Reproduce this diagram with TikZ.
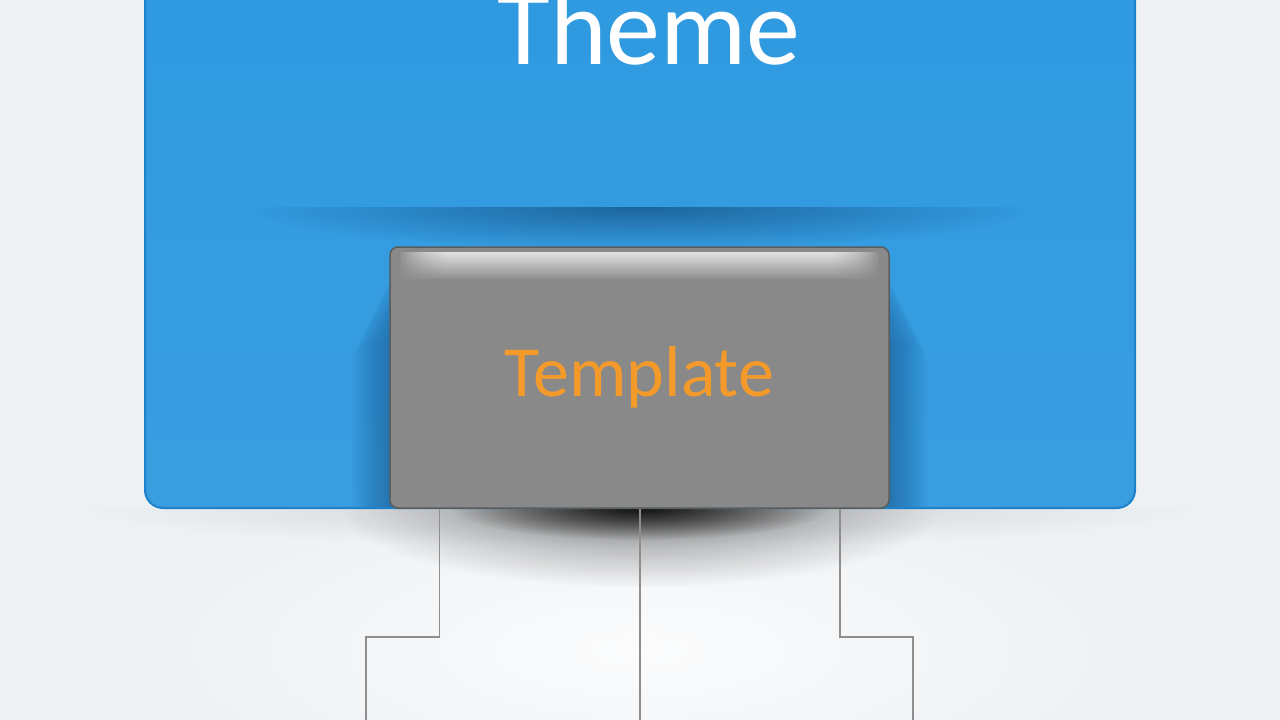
\documentclass[tikz,border=0pt]{standalone}
\usepackage{fontspec}
\setmainfont{Carlito}
\usetikzlibrary{fadings,calc}
\definecolor{bg}{HTML}{EEF1F4}
\definecolor{bgdark}{HTML}{D9DBDE}
\definecolor{blueT}{HTML}{2E9AE0}
\definecolor{blueM}{HTML}{43A5E4}
\definecolor{blueB}{HTML}{3A9DE0}
\definecolor{blueEdge}{HTML}{1E82CA}
\definecolor{shadowblue}{HTML}{0B3A66}
\definecolor{keygray}{HTML}{898989}
\definecolor{keyedge}{HTML}{5C5C5C}
\definecolor{tmplorange}{HTML}{F39A2B}
\definecolor{wire}{HTML}{8E8E8E}
\tikzfading[name=radfade, inner color=transparent!0, outer color=transparent!100]
\tikzset{
  keybox/.style={draw=keyedge, line width=1.5pt, fill=keygray, rounded corners=8pt,
    minimum width=499pt, minimum height=261pt, inner sep=0pt,
    text=tmplorange, font=\fontsize{72}{72}\selectfont},
  titletext/.style={text=white, font=\fontsize{108}{108}\selectfont, inner sep=0pt},
  wireline/.style={draw=wire, line width=1.5pt}
}
\begin{document}
\begin{tikzpicture}[x=1pt,y=-1pt]
\useasboundingbox (0,0) rectangle (1280,720);
\fill[bg] (0,0) rectangle (1280,720);
\fill[white, path fading=radfade, opacity=0.8] (640,650) ellipse [x radius=520, y radius=170];
% shadow below blue panel
\begin{scope}
  \clip (0,508) rectangle (1280,720);
  \fill[black, opacity=0.12, path fading=radfade] (640,508) ellipse [x radius=560, y radius=40];
  \fill[black, opacity=0.45, path fading=radfade] (640,508) ellipse [x radius=300, y radius=80];
  \fill[black, opacity=0.85, path fading=radfade] (640,508) ellipse [x radius=190, y radius=32];
\end{scope}
% blue panel
\shade[top color=blueT, middle color=blueM, bottom color=blueB, rounded corners=18pt]
  (145,-30) rectangle (1135,508);
\begin{scope}
  \clip[rounded corners=18pt] (145,-30) rectangle (1135,508);
  % slot shadow
  \clip (145,207) rectangle (1135,508);
  \fill[shadowblue, opacity=0.55, path fading=radfade] (640,207) ellipse [x radius=395, y radius=42];
  % soft shadow around the key
  \foreach \i in {1,...,16}
    \fill[shadowblue, opacity=0.026, rounded corners=20pt]
      (392-\i*2.5, 262+\i*5) rectangle (887+\i*2.5, 530);
\end{scope}
\draw[blueEdge, line width=2pt, rounded corners=18pt] (145,-30) rectangle (1135,508);
% title
\node[titletext, anchor=base] (theme) at (649,64) {Theme};
% key
\node[keybox] (tmpl) at (639.5,377.5) {Template};
\foreach \i in {0,...,19}
  \shade[top color=white, bottom color=keygray, opacity=0.075]
    (400+\i*2.5, 252) rectangle (879-\i*2.5, 283);
% connectors
\coordinate (l1) at (366,720);
\coordinate (c1) at (640,720);
\coordinate (r1) at (913,720);
\draw[wireline] ([xshift=50pt]tmpl.south west) -- ++(0,128) -| (l1);
\draw[wireline] ([xshift=0.5pt]tmpl.south) -- (c1);
\draw[wireline] ([xshift=-50pt]tmpl.south east) -- ++(0,128) -| (r1);
\end{tikzpicture}
\end{document}
